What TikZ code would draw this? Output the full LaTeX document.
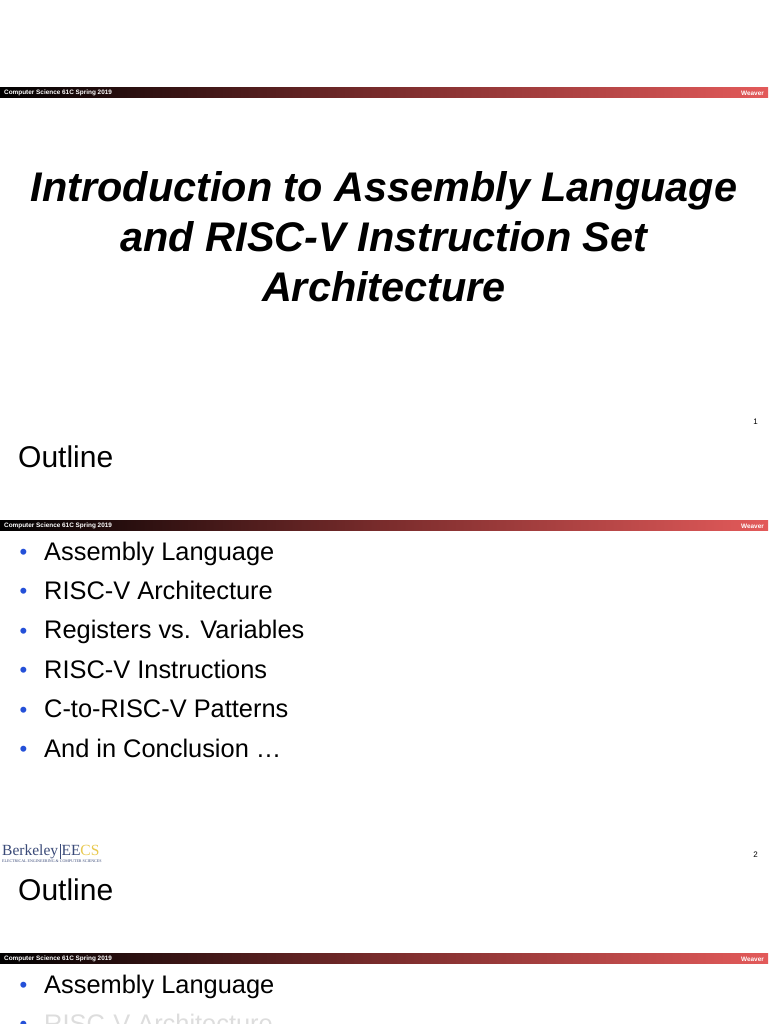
\documentclass[tikz,border=0pt]{standalone}
\usepackage{fontspec}
\setmainfont{Liberation Sans}
\newfontfamily\logofont{Liberation Serif}
\usetikzlibrary{%
	positioning,
	calc
}
\definecolor{barred}{HTML}{E35A5A}
\definecolor{bardark}{HTML}{7A2C2C}
\definecolor{dotblue}{HTML}{2450D8}
\definecolor{logonavy}{HTML}{3A4A78}
\definecolor{logogold}{HTML}{E9C94F}
\definecolor{fadedgray}{HTML}{DDDDDD}
\begin{document}
\begin{tikzpicture}[
		x=1pt,y=-1pt,
		TopBar/.style={inner sep=0pt,minimum width=768pt,minimum height=10.5pt,anchor=north west,left color=black,right color=barred,middle color=bardark,shading angle=90},
		barleft/.style={font=\bfseries\fontsize{6.4}{7}\selectfont,text=white,inner sep=0pt,anchor=west},
		barright/.style={font=\bfseries\fontsize{6.4}{7}\selectfont,text=white,inner sep=0pt,anchor=east},
		heading/.style={font=\bfseries\itshape\fontsize{41.4}{50}\selectfont,align=center,inner sep=0pt,anchor=center},
		slidetitle/.style={font=\fontsize{30}{32}\selectfont,inner sep=0pt,anchor=base west},
		entry/.style={font=\fontsize{25.4}{28}\selectfont,inner sep=0pt,anchor=base west},
		dot/.style={font=\fontsize{22}{24}\selectfont,text=dotblue,inner sep=0pt,anchor=base},
		pageno/.style={font=\fontsize{8}{9}\selectfont,inner sep=0pt,anchor=base east}
	]
	\useasboundingbox[fill=white] (0,0) rectangle (768,1024);
	
	%first slide
	\node(bar1) [TopBar] at (0,87) {};
	\node(course1) [barleft] at (4,93) {Computer Science 61C Spring 2019};
	\node(name1) [barright] at (764,93) {Weaver};
	\node(T) [heading] at (384,236.5) {Introduction to Assembly Language\\and RISC-V Instruction Set\\Architecture};
	\node(p1) [pageno] at (758,424) {1};
	
	%second slide
	\node(O2) [slidetitle] at (18,467) {Outline};
	\node(bar2) [TopBar] at (0,520) {};
	\node(course2) [barleft] at (4,526) {Computer Science 61C Spring 2019};
	\node(name2) [barright] at (764,526) {Weaver};
	
	\node(a1) [entry] at (44,560) {Assembly Language};
	\node(a2) [entry] at (44,599) {RISC-V Architecture};
	\node(a3) [entry] at (44,638.5) {Registers vs. Variables};
	\node(a4) [entry] at (44,678) {RISC-V Instructions};
	\node(a5) [entry] at (44,717.5) {C-to-RISC-V Patterns};
	\node(a6) [entry] at (44,757) {And in Conclusion …};
	\node(d1) [dot] at (23.5,559.5) {•};
	\node(d2) [dot] at (23.5,598.5) {•};
	\node(d3) [dot] at (23.5,638) {•};
	\node(d4) [dot] at (23.5,677.5) {•};
	\node(d5) [dot] at (23.5,717) {•};
	\node(d6) [dot] at (23.5,756.5) {•};
	
	\node(logoa) [font=\logofont\fontsize{15.5}{16}\selectfont,text=logonavy,inner sep=0pt,anchor=base west] at (2,855.5) {Berkeley};
	\node(logob) [font=\logofont\fontsize{15.5}{16}\selectfont,inner sep=0pt,right=3pt of logoa.base east,anchor=base west] {\textcolor{logonavy}{EE}\textcolor{logogold}{CS}};
	\node(logoc) [font=\logofont\fontsize{4}{4}\selectfont,text=logonavy,inner sep=0pt,anchor=base west] at (2,862.5) {ELECTRICAL ENGINEERING \& COMPUTER SCIENCES};
	\draw[logonavy,line width=.5pt] ($(logoa.base east)+(1.5,3)$) -- ($(logoa.base east)+(1.5,-12)$);
	\node(p2) [pageno] at (758,857) {2};
	
	%third slide
	\node(O3) [slidetitle] at (18,900) {Outline};
	\node(bar3) [TopBar] at (0,953) {};
	\node(course3) [barleft] at (4,959) {Computer Science 61C Spring 2019};
	\node(name3) [barright] at (764,959) {Weaver};
	\node(c1) [entry] at (44,993) {Assembly Language};
	\node(c2) [entry,text=fadedgray] at (44,1032) {RISC-V Architecture};
	\node(e1) [dot] at (23.5,992.5) {•};
	\node(e2) [dot] at (23.5,1031.5) {•};
\end{tikzpicture}
\end{document}
